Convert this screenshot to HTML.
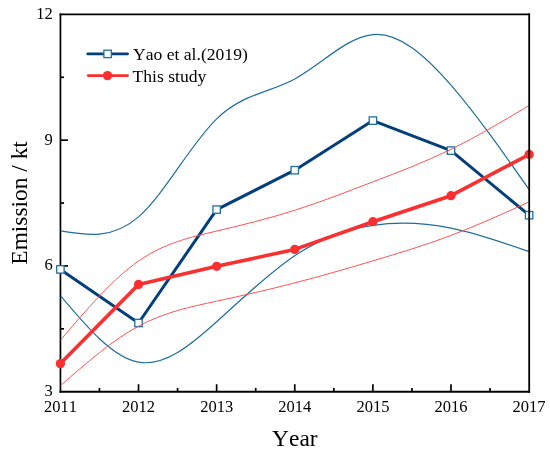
<!DOCTYPE html>
<html><head><meta charset="utf-8"><title>Emission chart</title>
<style>html,body{margin:0;padding:0;background:#fff;width:550px;height:453px;overflow:hidden}svg{display:block}text{font-kerning:none}</style>
</head><body>
<svg width="550" height="453" viewBox="0 0 550 453">
<rect width="550" height="453" fill="#fff"/>
<g stroke="#000" stroke-width="1.7" fill="none">
<line x1="60.45" y1="13.5" x2="60.45" y2="392.7"/>
<line x1="59.6" y1="391.7" x2="530.1" y2="391.7" stroke-width="2"/>
<line x1="99.46" y1="391.7" x2="99.46" y2="387.9"/>
<line x1="138.52" y1="391.7" x2="138.52" y2="384.2"/>
<line x1="177.58" y1="391.7" x2="177.58" y2="387.9"/>
<line x1="216.64" y1="391.7" x2="216.64" y2="384.2"/>
<line x1="255.70" y1="391.7" x2="255.70" y2="387.9"/>
<line x1="294.76" y1="391.7" x2="294.76" y2="384.2"/>
<line x1="333.82" y1="391.7" x2="333.82" y2="387.9"/>
<line x1="372.88" y1="391.7" x2="372.88" y2="384.2"/>
<line x1="411.94" y1="391.7" x2="411.94" y2="387.9"/>
<line x1="451.00" y1="391.7" x2="451.00" y2="384.2"/>
<line x1="490.06" y1="391.7" x2="490.06" y2="387.9"/>
<line x1="60.45" y1="265.93" x2="67.95" y2="265.93"/>
<line x1="60.45" y1="140.17" x2="67.95" y2="140.17"/>
<line x1="60.45" y1="328.82" x2="64.05" y2="328.82"/>
<line x1="60.45" y1="203.05" x2="64.05" y2="203.05"/>
<line x1="60.45" y1="77.28" x2="64.05" y2="77.28"/>
</g>
<defs><clipPath id="c"><rect x="60.45" y="14.4" width="468.75000000000006" height="377.3"/></clipPath></defs>
<g clip-path="url(#c)" fill="none">
<path d="M60.40,230.90 C86.44,235.27 112.48,239.63 138.52,216.83 C164.56,194.03 190.60,144.06 216.64,118.83 C242.68,93.61 268.72,93.12 294.76,78.96 C320.80,64.81 346.84,36.99 372.88,34.56 C398.92,32.13 424.96,55.10 451.00,85.16 C477.04,115.23 503.08,152.40 529.12,189.57" stroke="#1f6f9c" stroke-width="1.2"/>
<path d="M60.40,295.59 C86.44,326.51 112.48,357.43 138.52,362.12 C164.56,366.82 190.60,345.29 216.64,321.82 C242.68,298.35 268.72,272.93 294.76,255.65 C320.80,238.37 346.84,229.24 372.88,225.35 C398.92,221.47 424.96,222.85 451.00,228.10 C477.04,233.35 503.08,242.47 529.12,251.59" stroke="#1f6f9c" stroke-width="1.2"/>
</g>
<polyline points="60.40,269.40 138.52,323.00 216.64,209.60 294.76,170.20 372.88,120.60 451.00,150.60 529.12,215.20" fill="none" stroke="#033f7a" stroke-width="3" stroke-linejoin="round"/>
<rect x="56.70" y="265.70" width="7.4" height="7.4" fill="#fff" stroke="#1f6f9c" stroke-width="1.3"/>
<rect x="134.82" y="319.30" width="7.4" height="7.4" fill="#fff" stroke="#1f6f9c" stroke-width="1.3"/>
<rect x="212.94" y="205.90" width="7.4" height="7.4" fill="#fff" stroke="#1f6f9c" stroke-width="1.3"/>
<rect x="291.06" y="166.50" width="7.4" height="7.4" fill="#fff" stroke="#1f6f9c" stroke-width="1.3"/>
<rect x="369.18" y="116.90" width="7.4" height="7.4" fill="#fff" stroke="#1f6f9c" stroke-width="1.3"/>
<rect x="447.30" y="146.90" width="7.4" height="7.4" fill="#fff" stroke="#1f6f9c" stroke-width="1.3"/>
<rect x="525.42" y="211.50" width="7.4" height="7.4" fill="#fff" stroke="#1f6f9c" stroke-width="1.3"/>
<g clip-path="url(#c)" fill="none">
<path d="M60.40,340.18 C86.44,309.70 112.48,279.22 138.52,261.08 C164.56,242.95 190.60,237.15 216.64,231.06 C242.68,224.96 268.72,218.56 294.76,210.28 C320.80,202.00 346.84,191.85 372.88,181.86 C398.92,171.87 424.96,162.05 451.00,149.35 C477.04,136.65 503.08,121.08 529.12,105.50" stroke="#ff5454" stroke-width="1"/>
<path d="M60.40,385.65 C86.44,362.92 112.48,340.19 138.52,326.16 C164.56,312.12 190.60,306.77 216.64,301.16 C242.68,295.54 268.72,289.65 294.76,282.92 C320.80,276.18 346.84,268.60 372.88,260.87 C398.92,253.14 424.96,245.27 451.00,235.41 C477.04,225.56 503.08,213.71 529.12,201.87" stroke="#ff5454" stroke-width="1"/>
</g>
<polyline points="60.40,363.60 138.52,284.50 216.64,266.30 294.76,249.40 372.88,221.70 451.00,195.70 529.12,154.50" fill="none" stroke="#fa3030" stroke-width="3.6" stroke-linejoin="round"/>
<circle cx="60.40" cy="363.60" r="4.65" fill="#fa3030"/>
<circle cx="138.52" cy="284.50" r="4.65" fill="#fa3030"/>
<circle cx="216.64" cy="266.30" r="4.65" fill="#fa3030"/>
<circle cx="294.76" cy="249.40" r="4.65" fill="#fa3030"/>
<circle cx="372.88" cy="221.70" r="4.65" fill="#fa3030"/>
<circle cx="451.00" cy="195.70" r="4.65" fill="#fa3030"/>
<circle cx="529.12" cy="154.50" r="4.65" fill="#fa3030"/>
<g stroke="#000" stroke-width="1.8" fill="none">
<line x1="529.2" y1="13.55" x2="529.2" y2="392.7"/>
<line x1="59.6" y1="14.4" x2="530.1" y2="14.4" stroke-width="1.7"/>
</g>
<line x1="87.7" y1="53.9" x2="127.6" y2="53.9" stroke="#033f7a" stroke-width="2.7" stroke-linecap="round"/>
<rect x="103.89999999999999" y="50.199999999999996" width="7.4" height="7.4" fill="#fff" stroke="#1f6f9c" stroke-width="1.3"/>
<line x1="88.2" y1="75.6" x2="127.6" y2="75.6" stroke="#fa3030" stroke-width="2.8" stroke-linecap="round"/>
<circle cx="107.5" cy="75.6" r="4.65" fill="#fa3030"/>
<g font-family="'Liberation Serif','Times New Roman',serif" font-size="17.6" fill="#000">
<text x="133" y="60.4">Yao et al.(2019)</text>
<text x="132.5" y="82.2">This study</text>
</g>
<g font-family="'Liberation Serif','Times New Roman',serif" font-size="16.5" fill="#000">
<text x="52.8" y="396.20" text-anchor="end">3</text>
<text x="52.8" y="270.43" text-anchor="end">6</text>
<text x="52.8" y="144.67" text-anchor="end">9</text>
<text x="52.8" y="18.90" text-anchor="end">12</text>
<text x="60.40" y="412.2" text-anchor="middle">2011</text>
<text x="138.52" y="412.2" text-anchor="middle">2012</text>
<text x="216.64" y="412.2" text-anchor="middle">2013</text>
<text x="294.76" y="412.2" text-anchor="middle">2014</text>
<text x="372.88" y="412.2" text-anchor="middle">2015</text>
<text x="451.00" y="412.2" text-anchor="middle">2016</text>
<text x="529.12" y="412.2" text-anchor="middle">2017</text>
</g>
<text x="294.85" y="446" text-anchor="middle" font-family="'Liberation Serif','Times New Roman',serif" font-size="23.4" style="font-kerning:none">Year</text>
<text transform="translate(27.3,202.9) rotate(-90)" text-anchor="middle" font-family="'Liberation Serif','Times New Roman',serif" font-size="23.4" style="font-kerning:none">Emission / kt</text>
</svg>
</body></html>
